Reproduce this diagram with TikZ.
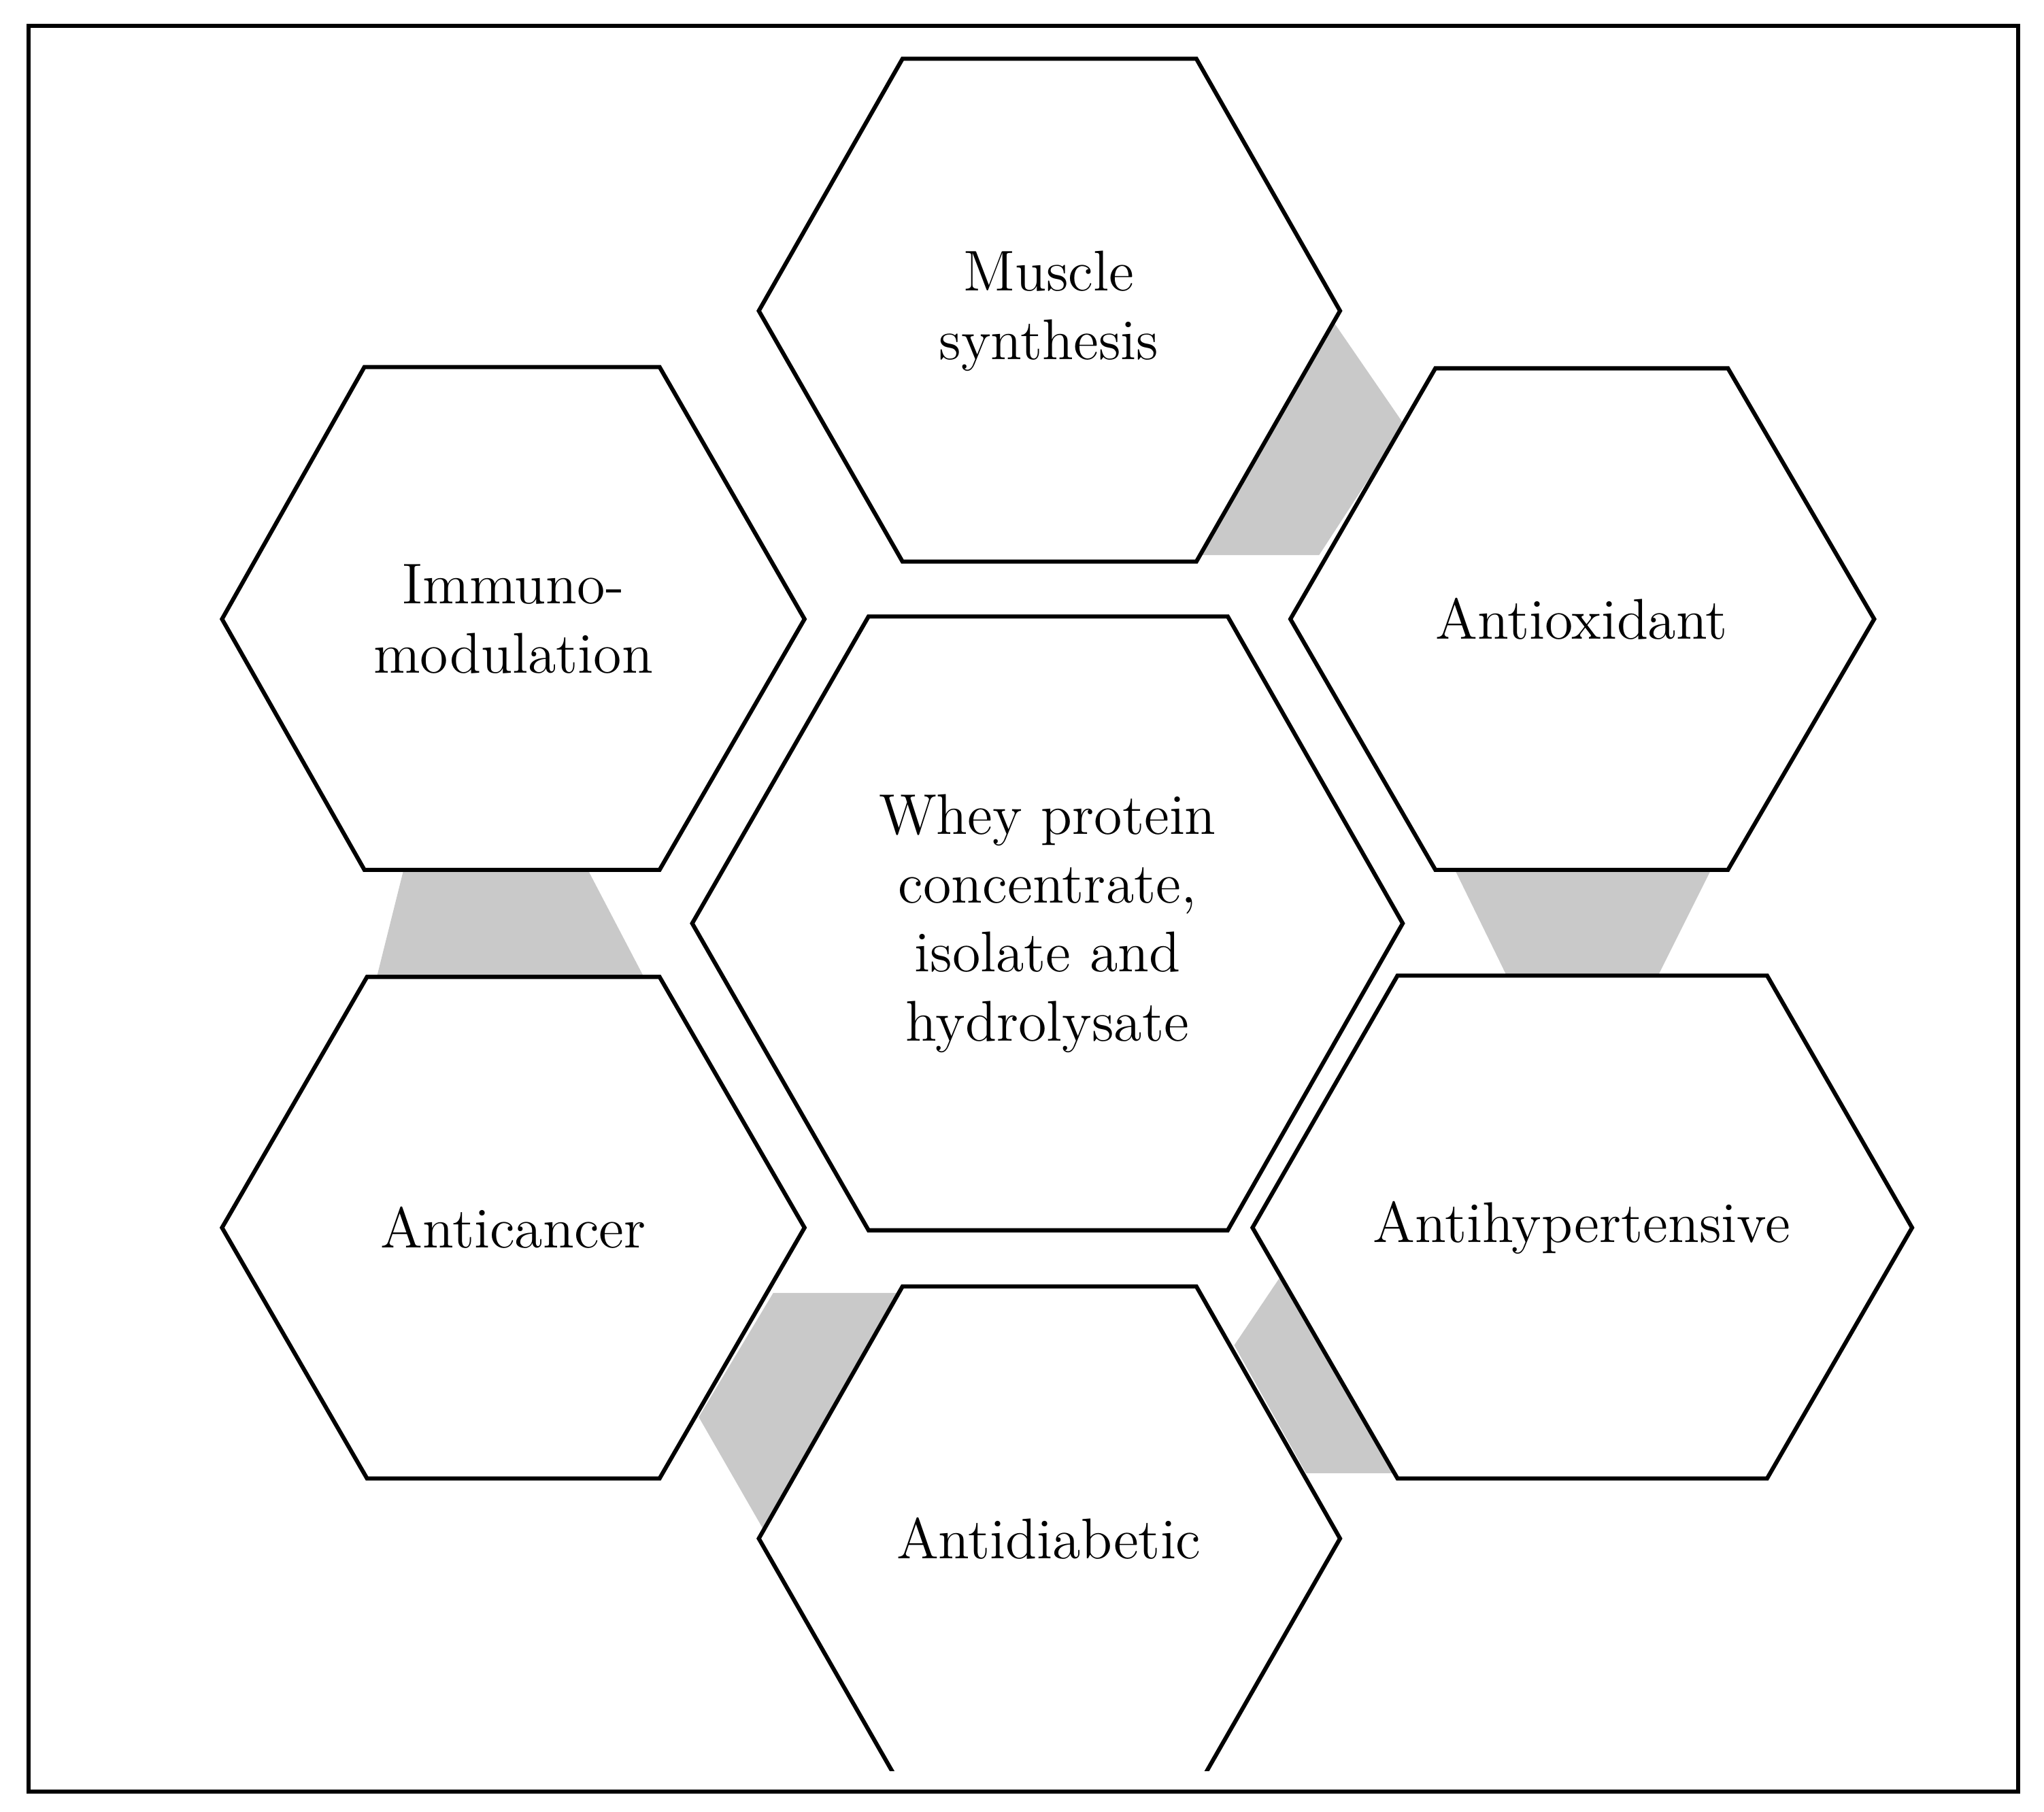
\documentclass[tikz,border=0pt]{standalone}
\begin{document}
\begin{tikzpicture}[x=0.01cm,y=-0.01cm,line join=miter,
  hex/.style={draw=black,line width=0.9pt,fill=white},
  gap/.style={fill=black!21,draw=none},
  lbl/.style={align=center,font=\fontsize{12.5}{15}\selectfont}]
\useasboundingbox (0,0) rectangle (1565,1387);
\draw[line width=0.9pt] (22,20) rectangle (1545,1372);
% grey connectors
\fill[gap] (1020,245) -- (1075,325) -- (1010,425) -- (915,425) -- cycle;
\fill[gap] (1112,662) -- (1312,662) -- (1268,750) -- (1155,750) -- cycle;
\fill[gap] (310,662) -- (448,662) -- (494,750) -- (288,750) -- cycle;
\fill[gap] (980,978) -- (1068,1128) -- (1000,1128) -- (945,1030) -- cycle;
\fill[gap] (592,990) -- (692,990) -- (585,1172) -- (535,1085) -- cycle;
% hexagons
\draw[hex] (691,45) -- (916,45) -- (1026,238) -- (916,430) -- (691,430) -- (581,238) -- cycle;
\draw[hex] (1099,282) -- (1323,282) -- (1435,474) -- (1323,666) -- (1099,666) -- (988,474) -- cycle;
\draw[hex] (279,281) -- (505,281) -- (616,474) -- (505,666) -- (279,666) -- (170,474) -- cycle;
\draw[hex] (665,472) -- (940,472) -- (1074,707) -- (940,942) -- (665,942) -- (530,707) -- cycle;
\draw[hex] (281,748) -- (505,748) -- (616,940) -- (505,1132) -- (281,1132) -- (170,940) -- cycle;
\draw[hex] (1070,747) -- (1353,747) -- (1464,940) -- (1353,1132) -- (1070,1132) -- (959,940) -- cycle;
\begin{scope}
\clip (0,0) rectangle (1565,1356);
\fill[white] (691,985) -- (916,985) -- (1026,1178) -- (916,1370) -- (691,1370) -- (581,1178) -- cycle;
\draw[line width=0.9pt] (691,1370) -- (581,1178) -- (691,985) -- (916,985) -- (1026,1178) -- (916,1370);
\end{scope}
% labels
\node[lbl] (muscle) at (803,238) {Muscle\\synthesis};
\node[lbl] (antiox) at (1211,474) {Antioxidant};
\node[lbl] (immuno) at (393,474) {Immuno-\\modulation};
\node[lbl] (whey) at (802,707) {Whey protein\\concentrate,\\isolate and\\hydrolysate};
\node[lbl] (cancer) at (393,940) {Anticancer};
\node[lbl] (hyper) at (1211,940) {Antihypertensive};
\node[lbl] (diab) at (803,1178) {Antidiabetic};
\end{tikzpicture}
\end{document}
